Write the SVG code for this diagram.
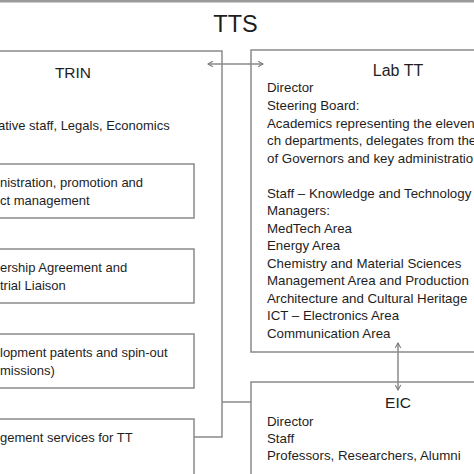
<svg xmlns="http://www.w3.org/2000/svg" width="474" height="474" viewBox="0 0 474 474">
  <defs>
    <style>
      text { font-family: "Liberation Sans", Arial, sans-serif; fill: #1e1e1e; }
      .title { font-size: 23.5px; }
      .head { font-size: 15.5px; text-anchor: middle; }
      .body { font-size: 13px; }
      .lab { font-size: 13.3px; }
      .box { fill: #ffffff; stroke: #8a8a8a; stroke-width: 1.5; }
      .line { fill: none; stroke: #8a8a8a; stroke-width: 1.5; }
    </style>
    <marker id="chev" viewBox="0 0 10 10" refX="9" refY="5" markerWidth="7" markerHeight="7" orient="auto-start-reverse" markerUnits="userSpaceOnUse">
      <path d="M2 1 L9 5 L2 9" fill="none" stroke="#7a7a7a" stroke-width="1.5"/>
    </marker>
  </defs>
  <rect width="474" height="474" fill="#ffffff"/>
  <line x1="0" y1="1" x2="474" y2="1" stroke="#9a9a9a" stroke-width="3"/>
  <text class="title" x="235.5" y="32" text-anchor="middle">TTS</text>

  <g id="trin">
    <path class="line" d="M -10 51 H 222 V 437 H 194"/>
    <text class="head" x="73" y="78">TRIN</text>
    <text class="body" x="-2" y="130">ative staff, Legals, Economics</text>
  </g>
  <g id="trin-box1">
    <rect class="box" x="-10" y="164" width="204" height="54"/>
    <text class="body" x="0" y="187">nistration, promotion and</text>
    <text class="body" x="0" y="205">ct management</text>
  </g>
  <g id="trin-box2">
    <rect class="box" x="-10" y="249" width="204" height="54"/>
    <text class="body" x="0" y="272">ership Agreement and</text>
    <text class="body" x="0" y="290">trial Liaison</text>
  </g>
  <g id="trin-box3">
    <rect class="box" x="-10" y="334" width="204" height="54"/>
    <text class="body" x="0" y="357">lopment patents and spin-out</text>
    <text class="body" x="0" y="375">missions)</text>
  </g>
  <g id="trin-box4">
    <rect class="box" x="-10" y="419" width="204" height="60"/>
    <text class="body" x="0" y="442">gement services for TT</text>
  </g>

  <g id="labtt">
    <rect class="box" x="251" y="50" width="240" height="302"/>
    <text class="head" x="398" y="76" style="font-size:16px">Lab TT</text>
    <text class="lab" x="267" y="92">Director</text>
    <text class="lab" x="267" y="110">Steering Board:</text>
    <text class="lab" x="267" y="127.5">Academics representing the eleven</text>
    <text class="lab" x="267" y="145">ch departments, delegates from the</text>
    <text class="lab" x="267" y="162.5">of Governors and key administratio</text>
    <text class="lab" x="267" y="197.5">Staff – Knowledge and Technology</text>
    <text class="lab" x="267" y="215">Managers:</text>
    <text class="lab" x="267" y="232.5">MedTech Area</text>
    <text class="lab" x="267" y="250">Energy Area</text>
    <text class="lab" x="267" y="267.5">Chemistry and Material Sciences</text>
    <text class="lab" x="267" y="285">Management Area and Production</text>
    <text class="lab" x="267" y="302.5">Architecture and Cultural Heritage</text>
    <text class="lab" x="267" y="320">ICT – Electronics Area</text>
    <text class="lab" x="267" y="337.5">Communication Area</text>
  </g>

  <g id="eic">
    <rect class="box" x="251" y="382" width="240" height="100"/>
    <text class="head" x="398" y="408">EIC</text>
    <text class="lab" x="267" y="426">Director</text>
    <text class="lab" x="267" y="443">Staff</text>
    <text class="lab" x="267" y="460">Professors, Researchers, Alumni</text>
  </g>

  <g id="connectors">
    <line class="line" x1="208" y1="64" x2="263" y2="64" marker-start="url(#chev)" marker-end="url(#chev)"/>
    <line class="line" x1="398" y1="343" x2="398" y2="390" marker-start="url(#chev)" marker-end="url(#chev)"/>
    <line class="line" x1="222" y1="402" x2="251" y2="402"/>
  </g>
</svg>
